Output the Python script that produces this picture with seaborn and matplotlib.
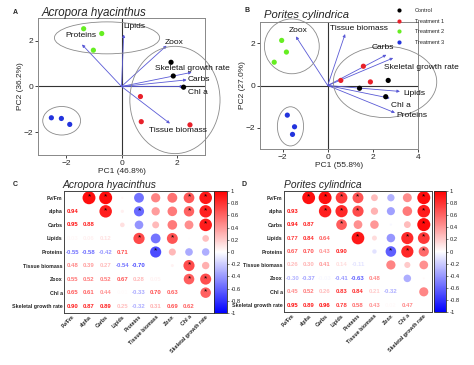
import numpy as np
import pandas as pd
import matplotlib
matplotlib.use("Agg")
import matplotlib.pyplot as plt
from matplotlib.patches import Ellipse
from matplotlib.colors import Normalize
import seaborn as sns

W, H = 474, 365

groups = ["Control", "Treatment 1", "Treatment 2", "Treatment 3"]
group_colors = ["#000000", "#e8202a", "#66ee22", "#2233dd"]

# PCA scores, 3 replicates per group (order as in groups)
a_pc1 = [1.78, 1.86, 2.23, 0.68, 0.71, 2.46, -1.36, -0.71, -1.01, -2.52, -2.16, -1.86]
a_pc2 = [1.06, 0.46, -0.03, -0.44, -1.54, -1.68, 2.53, 2.32, 1.59, -1.37, -1.40, -1.66]
a_vars = ["Lipids", "Proteins", "Zoox", "Skeletal growth rate", "Carbs", "Chl a", "Tissue biomass"]
a_load1 = [0.08, -1.42, 1.62, 2.52, 2.34, 2.22, 1.74]
a_load2 = [2.28, 1.84, 1.79, 0.62, 0.29, 0.0, -1.62]

b_pc1 = [2.68, 1.41, 2.57, 0.58, 1.58, 1.89, -2.04, -1.83, -2.37, -1.79, -1.47, -1.56]
b_pc2 = [0.24, -0.13, -0.53, 0.24, 0.91, 0.17, 2.13, 1.58, 1.10, -1.40, -1.95, -2.31]
b_vars = ["Zoox", "Tissue biomass", "Carbs", "Skeletal growth rate", "Lipids", "Chl a", "Proteins"]
b_load1 = [-1.41, 0.77, 2.60, 2.90, 3.20, 2.75, 2.98]
b_load2 = [2.32, 2.43, 1.45, 1.30, -0.28, -0.60, -1.29]

# correlation matrices (lower triangle)
corr_vars = ["Fv/Fm", "alpha", "Carbs", "Lipids", "Proteins", "Tissue biomass",
             "Zoox", "Chl a", "Skeletal growth rate"]
c_lower = [
    [],
    [0.94],
    [0.95, 0.88],
    [0.03, 0.06, 0.12],
    [-0.55, -0.58, -0.42, 0.71],
    [0.48, 0.39, 0.27, -0.54, -0.70],
    [0.55, 0.52, 0.52, 0.67, 0.28, 0.05],
    [0.65, 0.61, 0.44, 0.01, -0.33, 0.70, 0.63],
    [0.90, 0.87, 0.89, 0.25, -0.32, 0.31, 0.69, 0.62],
]
d_lower = [
    [],
    [0.93],
    [0.94, 0.87],
    [0.77, 0.84, 0.64],
    [0.67, 0.70, 0.43, 0.90],
    [0.26, 0.30, 0.41, 0.14, -0.11],
    [-0.30, -0.37, -0.03, -0.41, -0.63, 0.48],
    [0.45, 0.52, 0.26, 0.83, 0.84, 0.21, -0.32],
    [0.95, 0.89, 0.96, 0.78, 0.58, 0.43, 0.02, 0.47],
]
# significant pairs (starred)
c_sig = [("Fv/Fm", "alpha"), ("Fv/Fm", "Carbs"), ("Fv/Fm", "Chl a"), ("Fv/Fm", "Skeletal growth rate"),
         ("alpha", "Carbs"), ("alpha", "Proteins"), ("alpha", "Chl a"), ("alpha", "Skeletal growth rate"),
         ("Carbs", "Skeletal growth rate"), ("Lipids", "Proteins"), ("Lipids", "Zoox"),
         ("Proteins", "Tissue biomass"), ("Tissue biomass", "Chl a"), ("Zoox", "Chl a"),
         ("Zoox", "Skeletal growth rate"), ("Chl a", "Skeletal growth rate")]
d_sig = [("Fv/Fm", "alpha"), ("Fv/Fm", "Carbs"), ("Fv/Fm", "Lipids"), ("Fv/Fm", "Proteins"),
         ("Fv/Fm", "Skeletal growth rate"), ("alpha", "Carbs"), ("alpha", "Lipids"),
         ("alpha", "Proteins"), ("alpha", "Skeletal growth rate"), ("Carbs", "Lipids"),
         ("Carbs", "Skeletal growth rate"), ("Lipids", "Proteins"), ("Lipids", "Chl a"),
         ("Lipids", "Skeletal growth rate"), ("Proteins", "Zoox"), ("Proteins", "Chl a"),
         ("Proteins", "Skeletal growth rate")]

# layout: label positions and group ellipses (data coords)
a_label_pos = {"Lipids": (0.08, 2.62), "Proteins": (-2.0, 2.24), "Zoox": (1.54, 1.94),
               "Skeletal growth rate": (1.2, 0.78), "Carbs": (2.38, 0.29),
               "Chl a": (2.38, -0.26), "Tissue biomass": (1.0, -1.91)}
b_label_pos = {"Zoox": (-1.74, 2.6), "Tissue biomass": (0.12, 2.67), "Carbs": (1.93, 1.8),
               "Skeletal growth rate": (2.5, 0.83), "Lipids": (3.35, -0.38),
               "Chl a": (2.8, -0.94), "Proteins": (3.05, -1.4)}
a_ellipses = [((-0.52, 2.13), 3.78, 1.4), ((1.92, -0.59), 3.24, 4.7), ((-2.15, -1.5), 1.36, 1.25)]
b_ellipses = [((-1.59, 1.85), 2.43, 2.59), ((2.54, 0.17), 4.58, 3.37), ((-1.65, -1.93), 1.16, 1.85)]

sns.set_theme(style="white")
plt.rcParams["font.family"] = ["Liberation Sans", "DejaVu Sans"]

fig = plt.figure(figsize=(W / 100, H / 100), dpi=100)


def px_axes(l, t, r, b):
    return fig.add_axes([l / W, 1 - b / H, (r - l) / W, (b - t) / H])


def fig_text(x, y, s, **kw):
    fig.text(x / W, 1 - y / H, s, **kw)


arrow_col = "#5a5ad6"


def draw_pca(ax, pc1, pc2, names, l1, l2, label_pos, ellipses, xlim, xticks, xlabel, ylabel, legend):
    df = pd.DataFrame({"PC1": pc1, "PC2": pc2, "Group": np.repeat(groups, 3)})
    ax.axhline(0, color="#333333", lw=0.8, zorder=1)
    ax.axvline(0, color="#333333", lw=0.8, zorder=1)
    for name, x, y in zip(names, l1, l2):
        ax.annotate("", xy=(x, y), xytext=(0, 0),
                    arrowprops=dict(arrowstyle="-|>", color=arrow_col, lw=0.6,
                                    mutation_scale=4, shrinkA=0, shrinkB=0), zorder=2)
        lx, ly = label_pos[name]
        ax.text(lx, ly, name, fontsize=6, ha="left", va="center", color="#111111", zorder=5)
    sns.scatterplot(data=df, x="PC1", y="PC2", hue="Group", palette=group_colors,
                    s=14, edgecolor="none", ax=ax, legend=legend, zorder=4)
    for (cx, cy), w, h in ellipses:
        ax.add_patch(Ellipse((cx, cy), w, h, fill=False, ec="#8a8a8a", lw=0.6, clip_on=False, zorder=3))
    ax.set_xlim(*xlim)
    ax.set_ylim(-3, 3)
    ax.set_xticks(xticks)
    ax.set_yticks([-2, 0, 2])
    ax.set_xlabel(xlabel, fontsize=6, labelpad=1)
    ax.set_ylabel(ylabel, fontsize=6, labelpad=0)
    ax.tick_params(direction="out", length=2, width=0.6, labelsize=6, pad=1.5, bottom=True, left=True)
    for sp in ax.spines.values():
        sp.set_color("#888888")
        sp.set_linewidth(0.7)


ax_a = px_axes(38, 18, 205, 155)
draw_pca(ax_a, a_pc1, a_pc2, a_vars, a_load1, a_load2, a_label_pos, a_ellipses,
         (-3, 3), [-2, 0, 2], "PC1 (46.8%)", "PC2 (36.2%)", False)

ax_b = px_axes(260, 22, 418, 149)
draw_pca(ax_b, b_pc1, b_pc2, b_vars, b_load1, b_load2, b_label_pos, b_ellipses,
         (-3, 4), [-2, 0, 2, 4], "PC1 (55.8%)", "PC2 (27.0%)", True)
sns.move_legend(ax_b, "upper left", bbox_to_anchor=(388 / W, 1 - 3 / H),
                bbox_transform=fig.transFigure, title=None, frameon=False,
                fontsize=4, labelspacing=1.0, handletextpad=2.0, markerscale=0.8)

cmap = plt.get_cmap("bwr")
norm = Normalize(-1, 1)


def draw_corr(ax, cax, lower, sig):
    n = len(corr_vars)
    M = np.eye(n)
    for i, row in enumerate(lower):
        for j, v in enumerate(row):
            M[i, j] = M[j, i] = v
    cells = [(j, i, M[i, j]) for i in range(n) for j in range(i + 1, n)]
    df = pd.DataFrame(cells, columns=["x", "y", "r"])
    df["size"] = df["r"].abs()
    sns.scatterplot(data=df, x="x", y="y", hue="r", size="size", palette="bwr",
                    hue_norm=(-1, 1), sizes=(0, 92), size_norm=(0, 1),
                    edgecolor="none", legend=False, ax=ax)
    for i in range(n):
        for j in range(i):
            ax.text(j, i, f"{M[i, j]:.2f}", color=cmap(norm(M[i, j])), fontsize=4.3,
                    fontweight="bold", ha="center", va="center")
    for a, b in sig:
        i, j = corr_vars.index(a), corr_vars.index(b)
        ax.text(j, i - 0.05, "*", fontsize=6, ha="center", va="center", color="black")
    ax.set_xlim(-0.5, n - 0.5)
    ax.set_ylim(n - 0.5, -0.5)
    ax.set_xticks(range(n))
    ax.set_yticks(range(n))
    ax.set_xticklabels(corr_vars, rotation=45, ha="right", va="top", rotation_mode="anchor",
                       fontsize=3.8, fontweight="bold")
    ax.set_yticklabels(corr_vars, fontsize=3.8, fontweight="bold")
    ax.set_xlabel("")
    ax.set_ylabel("")
    ax.tick_params(length=0, pad=1)
    for sp in ax.spines.values():
        sp.set_color("#444444")
        sp.set_linewidth(0.7)
    sm = plt.cm.ScalarMappable(cmap=cmap, norm=norm)
    ticks = np.round(np.linspace(-1, 1, 11), 1) + 0.0
    cb = fig.colorbar(sm, cax=cax, ticks=ticks)
    cb.ax.set_yticklabels([f"{t:g}" for t in ticks])
    cb.ax.tick_params(labelsize=4.2, length=1.5, width=0.4, pad=1)
    cb.outline.set_linewidth(0.6)


ax_c = px_axes(64, 191, 214, 313)
cax_c = px_axes(214, 191, 227, 313)
draw_corr(ax_c, cax_c, c_lower, c_sig)

ax_d = px_axes(284, 191, 432, 312)
cax_d = px_axes(434, 191, 446, 312)
draw_corr(ax_d, cax_d, d_lower, d_sig)

# titles and panel letters
fig_text(42, 13, "Acropora hyacinthus", fontsize=8.3, style="italic", va="center")
fig_text(264, 15, "Porites cylindrica", fontsize=8.1, style="italic", va="center")
fig_text(63, 185, "Acropora hyacinthus", fontsize=7.4, style="italic", va="center")
fig_text(284, 185, "Porites cylindrica", fontsize=7.4, style="italic", va="center")
fig_text(13, 12, "A", fontsize=5, fontweight="bold", va="center")
fig_text(244, 11, "B", fontsize=5, fontweight="bold", va="center")
fig_text(13, 185, "C", fontsize=5, fontweight="bold", va="center")
fig_text(242, 185, "D", fontsize=5, fontweight="bold", va="center")

fig.savefig("out.png", dpi=100, facecolor="white")
